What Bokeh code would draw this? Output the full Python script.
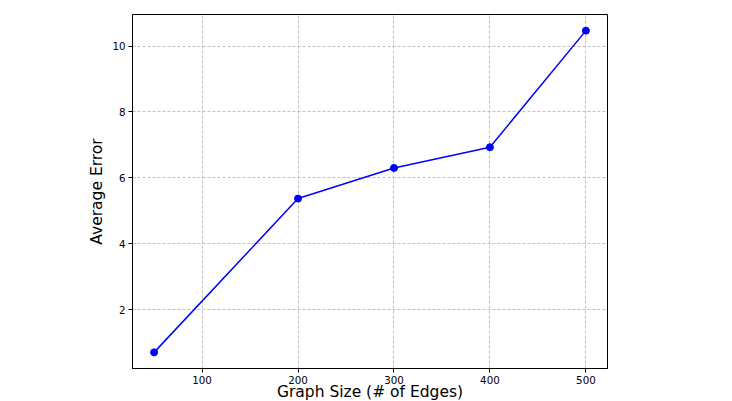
from bokeh.plotting import figure
from bokeh.models import Range1d, FixedTicker, ColumnDataSource
from bokeh.embed import file_html
from bokeh.resources import INLINE

# Data
graph_sizes = [50, 200, 300, 400, 500]
avg_errors = [0.70, 5.37, 6.30, 6.93, 10.47]
x_ticks = [100, 200, 300, 400, 500]
y_ticks = [2, 4, 6, 8, 10]
x_label = "Graph Size (# of Edges)"
y_label = "Average Error"

FONT = "DejaVu Sans"

src = ColumnDataSource(data=dict(x=graph_sizes, y=avg_errors))

p = figure(
    frame_width=475, frame_height=354,
    min_border_left=132, min_border_right=125,
    min_border_top=14, min_border_bottom=33,
    output_backend="svg", toolbar_location=None,
    x_range=Range1d(27.5, 522.5), y_range=Range1d(0.21, 10.96),
)
p.background_fill_color = "white"
p.border_fill_color = "white"
p.outline_line_color = "black"
p.outline_line_width = 1
p.outline_line_alpha = 1.0

p.xaxis.ticker = FixedTicker(ticks=x_ticks)
p.yaxis.ticker = FixedTicker(ticks=y_ticks)
for ax in (p.xaxis, p.yaxis):
    ax.minor_tick_line_color = None
    ax.major_tick_out = 4
    ax.major_tick_in = 0
    ax.major_tick_line_color = "black"
    ax.axis_line_color = "black"
    ax.major_label_text_font = FONT
    ax.major_label_text_font_size = "10.3px"
    ax.major_label_text_color = "black"
    ax.major_label_standoff = 3
    ax.axis_label_text_font = FONT
    ax.axis_label_text_font_size = "15.5px"
    ax.axis_label_text_font_style = "normal"
    ax.axis_label_text_color = "black"

p.yaxis.axis_label = y_label
p.yaxis.axis_label_standoff = 3

p.xaxis.axis_label = x_label
p.xaxis.axis_label_standoff = -4

p.grid.grid_line_color = "#b0b0b0"
p.grid.grid_line_dash = "3 2"
p.grid.grid_line_width = 0.8

p.line("x", "y", source=src, line_color="#0000ff", line_width=1.5)
p.scatter("x", "y", source=src, size=7, fill_color="#0000ff", line_color="#0000ff")

open("out.html", "w").write(file_html(p, INLINE))
